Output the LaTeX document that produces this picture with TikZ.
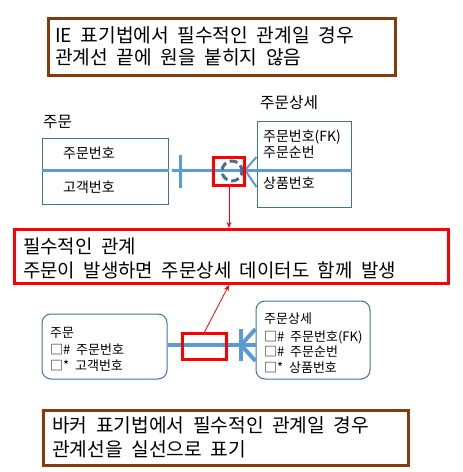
\documentclass[tikz,border=0pt]{standalone}
\usepackage{fontspec}
\setmainfont{Noto Sans CJK KR}[WordSpace=2]
\usetikzlibrary{arrows.meta}
\definecolor{brownc}{HTML}{843C0C}
\definecolor{relblue}{HTML}{5B9BD5}
\definecolor{boxblue}{HTML}{41719C}
\definecolor{redc}{HTML}{FF0000}
\begin{document}
\begin{tikzpicture}[x=1pt,y=-1pt,
  bigtxt/.style={anchor=west,inner sep=0pt,font=\fontsize{19.2}{23}\selectfont},
  midtxt/.style={anchor=west,inner sep=0pt,font=\fontsize{18.9}{22}\selectfont},
  lbltxt/.style={anchor=west,inner sep=0pt,font=\fontsize{15.7}{18}\selectfont},
  enttxt/.style={anchor=west,inner sep=0pt,font=\fontsize{14}{16}\selectfont},
  barktxt/.style={anchor=west,inner sep=0pt,font=\fontsize{13}{16}\selectfont},
  notebox/.style={draw=brownc,line width=3pt,inner sep=0pt},
  redbox/.style={draw=redc,line width=3pt,inner sep=0pt},
  entbox/.style={draw=boxblue,line width=1pt,inner sep=0pt},
  rel/.style={draw=relblue,line width=3pt},
  relthick/.style={draw=relblue,line width=4pt},
  callout/.style={draw=redc,line width=0.8pt,-{Stealth[length=6pt,width=5pt]}}
]
\useasboundingbox (0,0) rectangle (463,472);

% top note
\node[notebox,minimum width=347pt,minimum height=57pt] (topbox) at (221.5,46.5) {};
\node[bigtxt] (t1) at (55,35) {IE 표기법에서 필수적인 관계일 경우};
\node[bigtxt] (t2) at (55,57) {관계선 끝에 원을 붙히지 않음};

% IE diagram
\node[lbltxt] (l1) at (43,122) {주문};
\node[lbltxt] (l2) at (260,103) {주문상세};
\node[entbox,minimum width=126pt,minimum height=66pt] (ent1) at (105,171) {};
\node[entbox,minimum width=94pt,minimum height=86pt] (ent2) at (304,164) {};
\draw[rel] (ent1.west |- 0,170) -- (ent1.east |- 0,170);
\node[enttxt] (e1a) at (63,153) {주문번호};
\node[enttxt] (e1b) at (63,187) {고객번호};
\node[enttxt] (e2a) at (263,137) {주문번호(FK)};
\node[enttxt] (e2b) at (263,152) {주문순번};
\node[enttxt] (e2c) at (263,183) {상품번호};
\coordinate (relstart) at (172,170);
\draw[rel] (relstart) -- (ent2.east |- relstart);
\coordinate (bar1t) at (180,155);
\coordinate (bar1b) at (180,188);
\draw[rel] (bar1t) -- (bar1b);
\node[draw=boxblue,line width=3pt,circle,minimum size=20pt,inner sep=0pt,dash pattern=on 8pt off 4pt,dash phase=2pt] (circ) at (232,171) {};
\coordinate (cf1) at (245,170);
\draw[draw=relblue,line width=2pt] (ent2.west |- 0,157) -- (cf1) -- (ent2.west |- 0,187);
\node[redbox,minimum width=31pt,minimum height=28pt] (redtop) at (229,171.5) {};

% middle note
\node[redbox,minimum width=434pt,minimum height=54pt] (midbox) at (231.5,256.5) {};
\node[midtxt] (m1) at (23,246) {필수적인 관계};
\node[midtxt] (m2) at (23,270) {주문이 발생하면 주문상세 데이터도 함께 발생};
\draw[callout] (redtop.south) -- (redtop.south |- midbox.north);

% Barker diagram
\node[entbox,rounded corners=9pt,minimum width=125pt,minimum height=65pt] (bent1) at (104.5,346.5) {};
\node[entbox,rounded corners=9pt,minimum width=114pt,minimum height=78pt] (bent2) at (313,340) {};
\node[barktxt] (b1a) at (50,333) {주문};
\node[barktxt] (b1b) at (50,350) {□\# 주문번호};
\node[barktxt] (b1c) at (50,366) {□* 고객번호};
\node[barktxt] (b2a) at (264,319) {주문상세};
\node[barktxt] (b2b) at (264,337) {□\# 주문번호(FK)};
\node[barktxt] (b2c) at (264,352) {□\# 주문순번};
\node[barktxt] (b2d) at (264,368) {□* 상품번호};
\draw[relthick] (bent1.east |- 0,345) -- (bent2.west |- 0,345);
\coordinate (bar2t) at (241,329);
\coordinate (bar2b) at (241,361);
\draw[relthick] (bar2t) -- (bar2b);
\coordinate (cf2) at (241,345);
\draw[relthick] (bent2.west |- 0,329) -- (cf2) -- (bent2.west |- 0,361);
\node[redbox,minimum width=44pt,minimum height=26pt] (redbot) at (204.5,346.5) {};
\draw[callout] (redbot.north) -- (redtop.south |- midbox.south);

% bottom note
\node[notebox,minimum width=365pt,minimum height=55pt] (botbox) at (226,438) {};
\node[bigtxt] (n1) at (52,425) {바커 표기법에서 필수적인 관계일 경우};
\node[bigtxt] (n2) at (52,449) {관계선을 실선으로 표기};
\end{tikzpicture}
\end{document}
